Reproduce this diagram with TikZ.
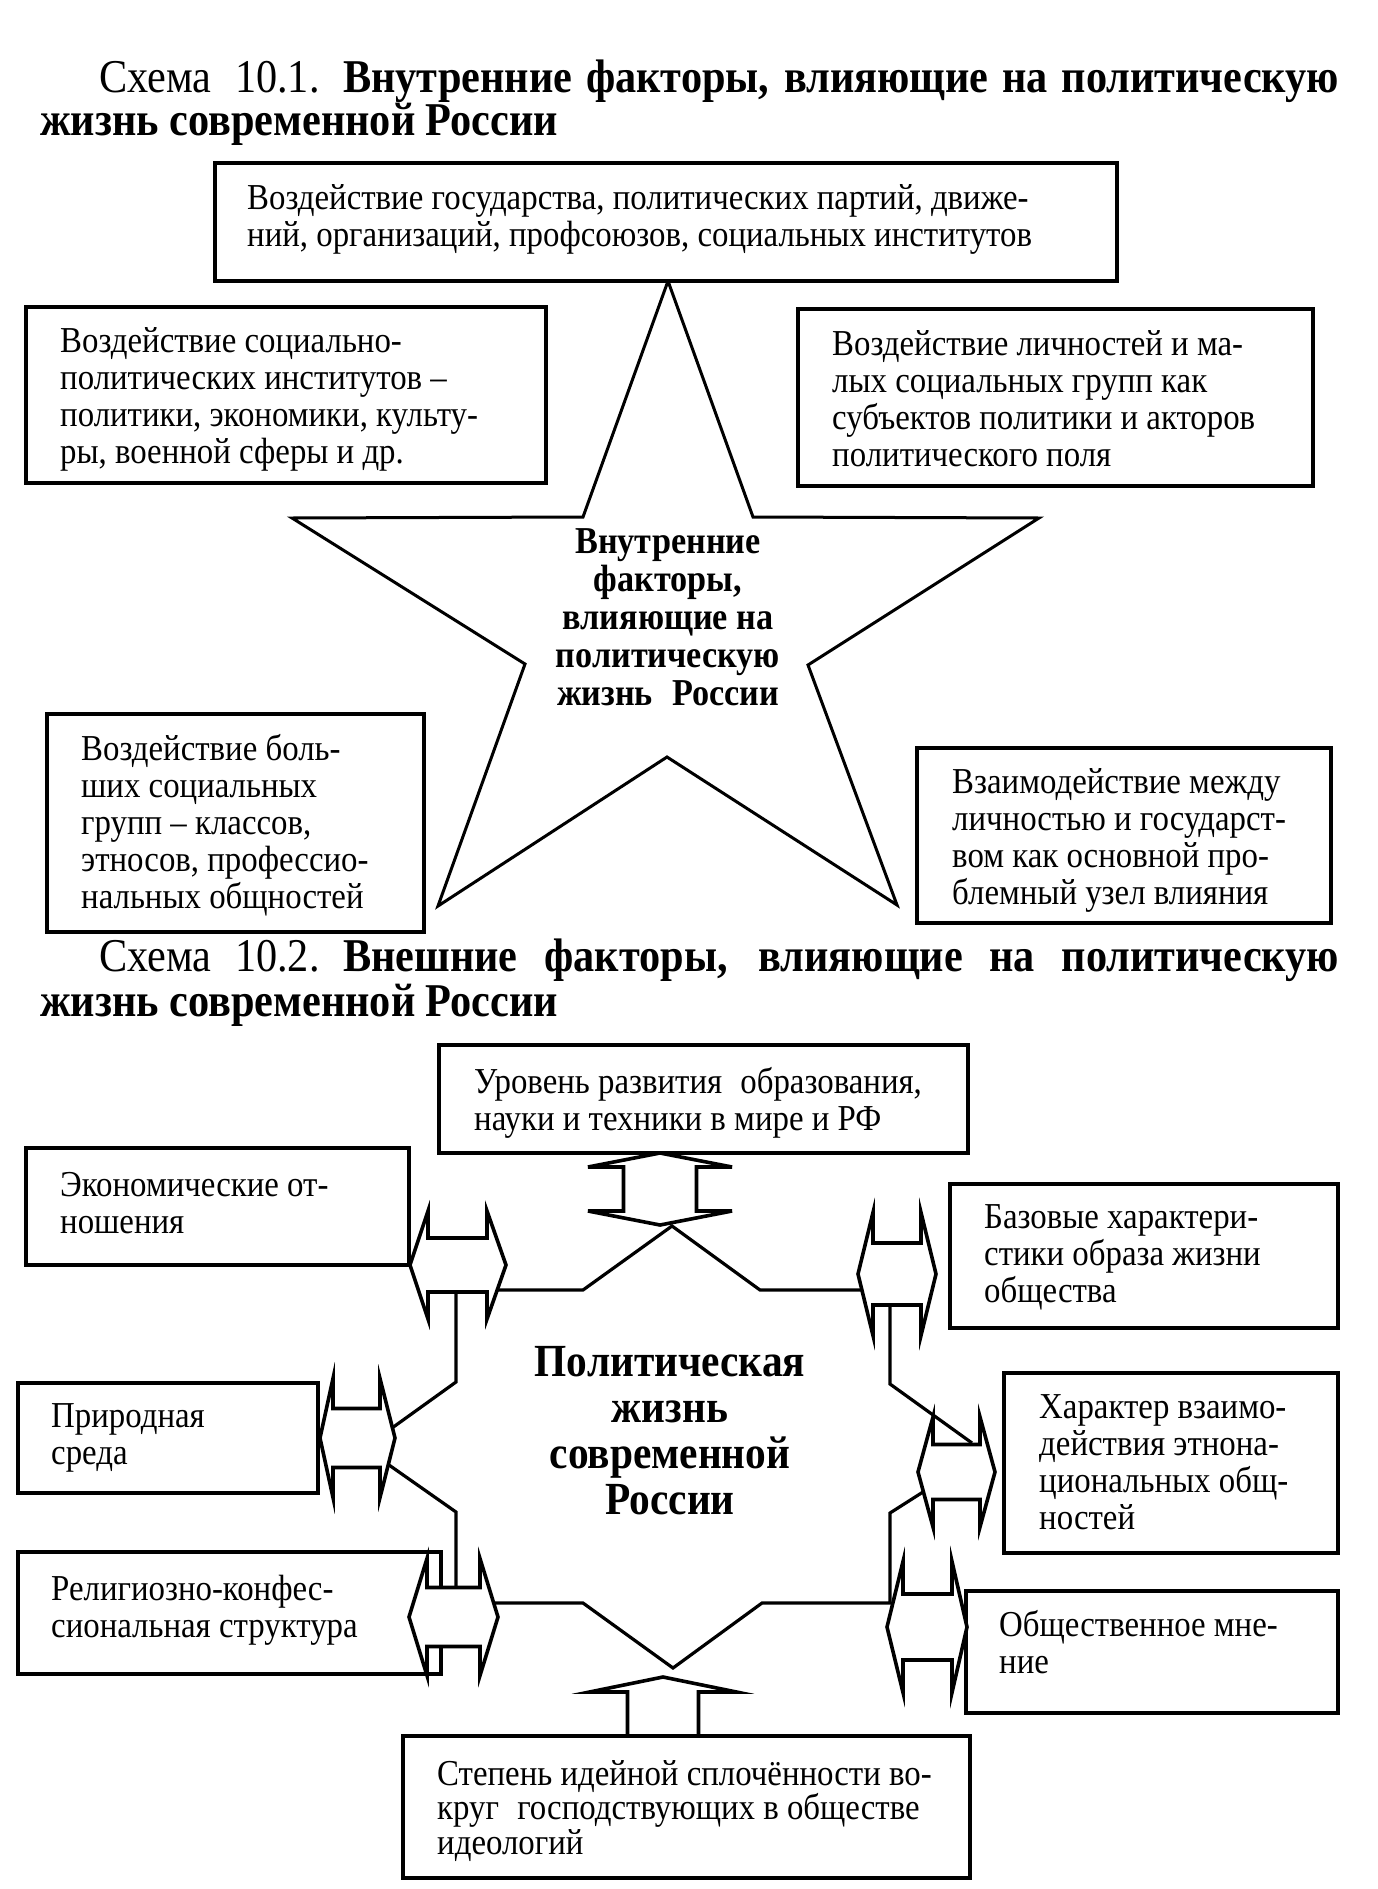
\documentclass[tikz,border=0pt]{standalone}
\usepackage{fontspec}
\setmainfont[FakeStretch=0.9]{Liberation Serif}
\newcommand\boxnode[5]{\node[box, minimum width={#4-#2}, minimum height={#5-#3}] (#1) at ({(#2+#4)/2},{(#3+#5)/2}) {};}
\newcommand\boxtext[4]{\node[txt] (#1) at (#2,{#3-29}) {\rule{0pt}{29pt}#4};}
% horizontal double block arrow: xtipL xbaseL xbaseR xtipR cy W w
\newcommand\harrow[7]{\path[arr] (#1,#5) -- (#2,{#5-#6}) -- (#2,{#5-#7}) -- (#3,{#5-#7}) -- (#3,{#5-#6}) -- (#4,#5) -- (#3,{#5+#6}) -- (#3,{#5+#7}) -- (#2,{#5+#7}) -- (#2,{#5+#6}) -- cycle;}
% vertical double block arrow: ytipT ybaseT ybaseB ytipB cx W w
\newcommand\varrow[7]{\path[arr] (#5,#1) -- ({#5+#6},#2) -- ({#5+#7},#2) -- ({#5+#7},#3) -- ({#5+#6},#3) -- (#5,#4) -- ({#5-#6},#3) -- ({#5-#7},#3) -- ({#5-#7},#2) -- ({#5-#6},#2) -- cycle;}
\begin{document}
\begin{tikzpicture}[x=1pt,y=-1pt,
  box/.style={draw, line width=3.2pt, fill=white, inner sep=0pt},
  txt/.style={font=\fontsize{36.5}{37}\selectfont, align=left, anchor=north west, inner sep=0pt},
  ttl/.style={font=\fontsize{47}{42}\selectfont, anchor=base west, inner sep=0pt},
  ctr/.style={font=\bfseries\fontsize{38}{38}\selectfont, align=center, anchor=north, inner sep=0pt},
  ctrbig/.style={font=\bfseries\fontsize{46}{46}\selectfont, align=center, anchor=north, inner sep=0pt},
  arr/.style={draw, line width=3.6pt, fill=white, line join=miter},
  con/.style={draw, line width=3.2pt, line join=miter},
  starline/.style={draw, line width=3pt, line join=miter}]
\useasboundingbox (0,0) rectangle (1377,1889);
\fill[white] (0,0) rectangle (1377,1889);

% ---------- Scheme 10.1 ----------
\node[ttl] (h1a) at (99,93) {\makebox[1240pt][s]{Схема\enspace 10.1.\enspace \textbf{Внутренние факторы, влияющие на политическую}}};
\node[ttl] (h1b) at (40,136) {\textbf{жизнь современной России}};

\draw[starline] (668,281) -- (753,517) -- (1039,518) -- (808,665) -- (897,905) -- (667,757) -- (438,906) -- (525,664) -- (292,518) -- (583,517) -- cycle;
\node[ctr] (starT) at (668,{553-30}) {\rule{0pt}{30pt}Внутренние\\факторы,\\влияющие на\\политическую\\жизнь\enspace России};

\boxnode{b1}{215}{163}{1117}{281}
\boxtext{t1}{247}{209}{Воздействие государства, политических партий, движе-\\ний, организаций, профсоюзов, социальных институтов}
\boxnode{b2}{26}{307}{546}{483}
\boxtext{t2}{60}{352}{Воздействие социально-\\политических институтов –\\политики, экономики, культу-\\ры, военной сферы и др.}
\boxnode{b3}{798}{309}{1313}{486}
\boxtext{t3}{832}{355}{Воздействие личностей и ма-\\лых социальных групп как\\субъектов политики и акторов\\политического поля}
\boxnode{b4}{47}{714}{424}{932}
\boxtext{t4}{81}{760}{Воздействие боль-\\ших социальных\\групп – классов,\\этносов, профессио-\\нальных общностей}
\boxnode{b5}{917}{748}{1331}{923}
\boxtext{t5}{952}{793}{Взаимодействие между\\личностью и государст-\\вом как основной про-\\блемный узел влияния}

% ---------- Scheme 10.2 ----------
\node[ttl] (h2a) at (99,971) {\makebox[1240pt][s]{Схема\enspace 10.2.\enspace \textbf{Внешние факторы, влияющие на политическую}}};
\node[ttl] (h2b) at (40,1016) {\textbf{жизнь современной России}};

\boxnode{c1}{439}{1045}{968}{1153}
\boxtext{u1}{474}{1093}{Уровень развития\enspace образования,\\науки и техники в мире и РФ}
\boxnode{c2}{26}{1148}{409}{1265}
\boxtext{u2}{60}{1196}{Экономические от-\\ношения}
\boxnode{c3}{18}{1383}{318}{1493}
\boxtext{u3}{51}{1427}{Природная\\среда}
\boxnode{c4}{18}{1552}{441}{1674}
\boxnode{c5}{950}{1184}{1338}{1328}
\boxtext{u5}{984}{1228}{Базовые характери-\\стики образа жизни\\общества}
\boxnode{c6}{1004}{1373}{1338}{1553}
\boxtext{u6}{1039}{1418}{Характер взаимо-\\действия этнона-\\циональных общ-\\ностей}
\boxnode{c7}{966}{1591}{1338}{1713}
\boxtext{u7}{999}{1636}{Общественное мне-\\ние}

% double arrows
\varrow{1153}{1167}{1211}{1225}{660}{72}{36.5}
\harrow{410}{428}{487}{506}{1265}{54}{27}
\harrow{320}{333}{380}{395}{1438}{59.5}{29.5}
\harrow{409}{427}{480}{498}{1617}{58.5}{29.5}
\varrow{1677}{1692}{1736}{1750}{663}{73.5}{35.5}
\harrow{858}{873}{921}{936}{1274}{61.5}{31}
\harrow{918}{933}{980}{995}{1472}{55}{27.5}
\harrow{887}{903}{952}{967}{1627}{65.5}{33}

\boxtext{u4}{51}{1600}{Религиозно-конфес-\\сиональная структура}

\boxnode{c8}{403}{1736}{970}{1878}
\node[txt, font=\fontsize{36.5}{34.5}\selectfont] (u8) at (437,{1785-29}) {\rule{0pt}{29pt}Степень идейной сплочённости во-\\круг\enspace господствующих в обществе\\идеологий};

% connector outline around the centre
\draw[con] (497,1290) -- (583,1290) -- (672,1226) -- (760,1290) -- (862,1290);
\draw[con] (456,1290) -- (456,1382) -- (392,1428);
\draw[con] (389,1465) -- (456,1512) -- (456,1588);
\draw[con] (494,1603) -- (583,1603) -- (673,1668) -- (762,1603) -- (890,1603) -- (890,1513) -- (923,1492);
\draw[con] (890,1304) -- (890,1384) -- (972,1443);

\node[ctrbig] (centre) at (670,{1376-38}) {\rule{0pt}{38pt}Политическая\\жизнь\\современной\\России};
\end{tikzpicture}
\end{document}
